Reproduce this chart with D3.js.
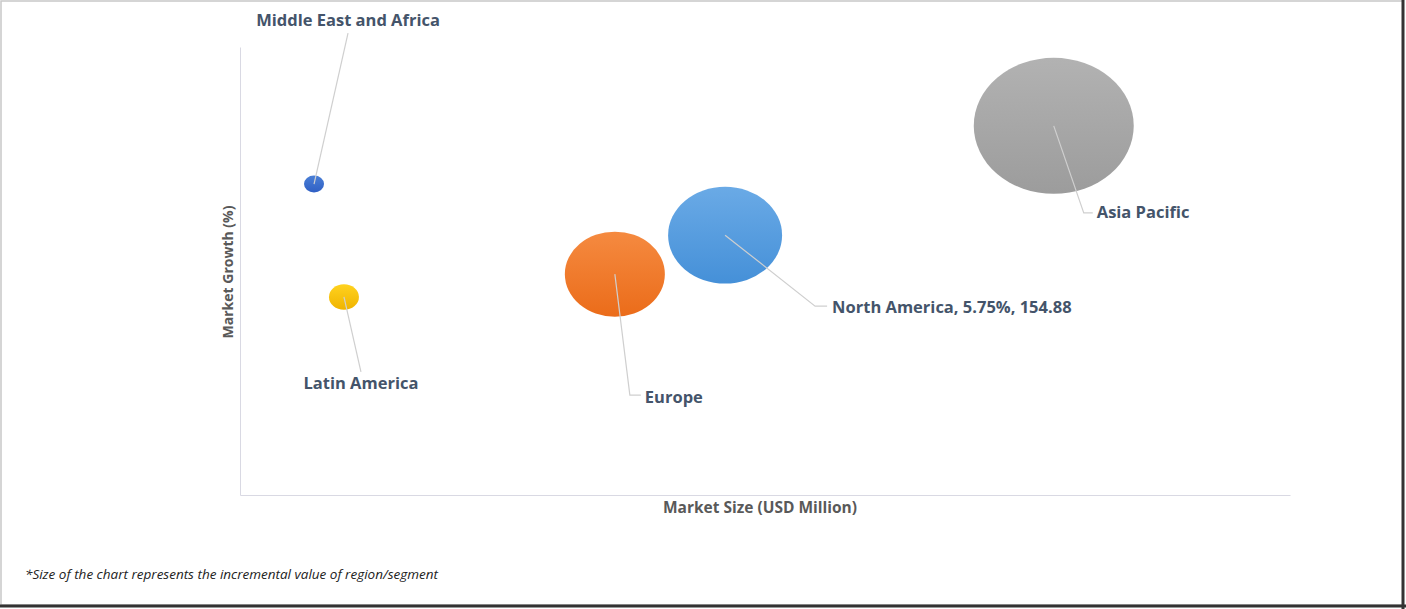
<!DOCTYPE html>
<html>
<head>
<meta charset="utf-8">
<script src="https://cdn.jsdelivr.net/npm/d3@7"></script>
<style>
body { margin: 0; background: #fff; }
text { font-family: "Open Sans", "DejaVu Sans", sans-serif; }
</style>
</head>
<body>
<div id="chart"></div>
<script>
// Regions, positions in arbitrary chart units (no tick values in the picture)
const regions = ["Middle East and Africa", "Latin America", "Europe", "North America", "Asia Pacific"];
const marketSize = [7.05, 9.9, 35.7, 46.2, 77.5];
const marketGrowth = [69.4, 44.2, 49.3, 58.0, 82.4];
const increment = [100, 225, 2500, 3249, 6400];
const labels = ["Middle East and Africa", "Latin America", "Europe", "North America, 5.75%, 154.88", "Asia Pacific"];
const colors = [["#4a7fd6", "#2f5fc4"], ["#ffd21f", "#f0b400"], ["#f58a40", "#eb6c1a"], ["#6aaae6", "#4590d8"], ["#b2b2b2", "#9c9c9c"]];

const w = 1406, h = 609;
const marginLeft = 240, marginRight = 116, marginTop = 47, marginBottom = 114;

const svg = d3.select("#chart").append("svg")
  .attr("width", w).attr("height", h);

// frame
svg.append("rect").attr("x", 1).attr("y", 1).attr("width", w - 4).attr("height", h - 5)
  .attr("fill", "none").attr("stroke", "#c8c8c8").attr("stroke-width", 1.5);
svg.append("line").attr("x1", 0).attr("x2", w).attr("y1", h - 3).attr("y2", h - 3)
  .attr("stroke", "#333").attr("stroke-width", 3);
svg.append("line").attr("x1", w - 3).attr("x2", w - 3).attr("y1", 0).attr("y2", h)
  .attr("stroke", "#333").attr("stroke-width", 3);

const x = d3.scaleLinear().domain([0, 100]).range([marginLeft, w - marginRight]);
const y = d3.scaleLinear().domain([0, 100]).range([h - marginBottom, marginTop]);
const r = d3.scaleSqrt().domain([0, 6400]).range([0, 80]);

const data = regions.map((d, i) => ({
  name: d, label: labels[i], x: marketSize[i], y: marketGrowth[i], v: increment[i], c: colors[i]
}));

// axes (no ticks)
svg.append("g").attr("transform", `translate(0,${y(0)})`)
  .call(d3.axisBottom(x).ticks(0).tickSizeOuter(0))
  .call(g => g.select(".domain").attr("stroke", "#d9d9e3"));
svg.append("g").attr("transform", `translate(${x(0)},0)`)
  .call(d3.axisLeft(y).ticks(0).tickSizeOuter(0))
  .call(g => g.select(".domain").attr("stroke", "#d9d9e3"));

const defs = svg.append("defs");
data.forEach((d, i) => {
  const g = defs.append("linearGradient").attr("id", "g" + i)
    .attr("x1", 0).attr("y1", 0).attr("x2", 0).attr("y2", 1);
  g.append("stop").attr("offset", "0%").attr("stop-color", d.c[0]);
  g.append("stop").attr("offset", "100%").attr("stop-color", d.c[1]);
});

svg.append("g").selectAll("ellipse").data(data).join("ellipse")
  .attr("cx", d => x(d.x)).attr("cy", d => y(d.y))
  .attr("rx", d => r(d.v)).attr("ry", d => r(d.v) * 0.85)
  .attr("fill", (d, i) => `url(#g${i})`);

// label offsets relative to bubble center
const labelPos = [
  {anchor: "middle", tx: 34, ty: -158, pts: [[0, 0], [34, -151]]},
  {anchor: "middle", tx: 17, ty: 92, pts: [[0, 0], [17, 75]]},
  {anchor: "start", tx: 30, ty: 129, pts: [[0, 0], [15, 121], [26, 121]]},
  {anchor: "start", tx: 107, ty: 78, pts: [[0, 0], [90, 71], [102, 71]]},
  {anchor: "start", tx: 43, ty: 92, pts: [[0, 0], [30, 87], [39, 87]]}
];

const lab = svg.append("g").selectAll("g").data(data).join("g")
  .attr("transform", d => `translate(${x(d.x)},${y(d.y)})`);
lab.append("path")
  .attr("d", (d, i) => d3.line()(labelPos[i].pts))
  .attr("fill", "none").attr("stroke", "#cfcfcf").attr("stroke-width", 1.2);
lab.append("text")
  .attr("x", (d, i) => labelPos[i].tx).attr("y", (d, i) => labelPos[i].ty)
  .attr("text-anchor", (d, i) => labelPos[i].anchor)
  .attr("fill", "#44546a").attr("font-weight", "bold").attr("font-size", 16.5)
  .text(d => d.label);

// axis titles
svg.append("text").attr("x", (x(0) + x(100)) / 2 - 5).attr("y", 513)
  .attr("text-anchor", "middle").attr("font-size", 15.5).attr("font-weight", "bold")
  .attr("fill", "#595959").text("Market Size (USD Million)");
svg.append("text").attr("transform", "translate(233,272) rotate(-90)")
  .attr("text-anchor", "middle").attr("font-size", 14).attr("font-weight", "bold")
  .attr("fill", "#595959").text("Market Growth (%)");

svg.append("text").attr("x", 25).attr("y", 579)
  .attr("font-size", 13.5).attr("font-style", "italic").attr("fill", "#222")
  .text("*Size of the chart represents the incremental value of region/segment");
</script>
</body>
</html>
